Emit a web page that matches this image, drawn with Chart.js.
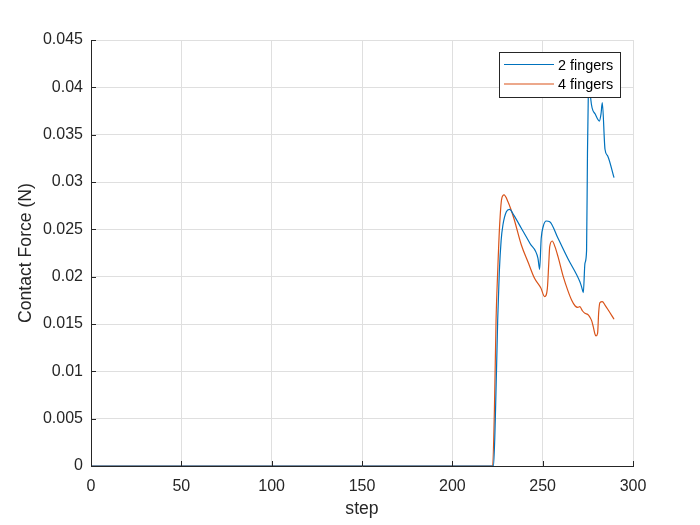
<!DOCTYPE html>
<html>
<head>
<meta charset="utf-8">
<script src="https://cdn.jsdelivr.net/npm/chart.js@4.4.1/dist/chart.umd.min.js"></script>
<style>
  html, body { margin: 0; padding: 0; background: #ffffff; }
  #wrap { width: 700px; height: 525px; }
</style>
</head>
<body>
<div id="wrap"><canvas id="c" width="700" height="525"></canvas></div>
<script>
// ---- data ----
const seriesLabels = ["2 fingers", "4 fingers"];
const steps2 = [0, 222.8, 223.8, 225.1, 226.0, 227.0, 228.0, 229.9, 231.7, 234.0, 238.2, 243.0, 247.4, 248.3, 249.2, 250.3, 252.0, 253.9, 258.5, 264.0, 270.6, 271.6, 272.5, 273.4, 274.3, 274.8, 275.4, 275.8, 276.6, 279.0, 281.4, 282.3, 283.0, 284.5, 286.0, 289.5];
const force2 = [0, 0, 0.005, 0.0154, 0.0205, 0.0238, 0.02546, 0.02686, 0.02711, 0.0265, 0.02511, 0.0235, 0.02194, 0.02078, 0.02405, 0.0253, 0.02588, 0.02581, 0.02405, 0.0219, 0.01947, 0.0189, 0.01831, 0.02141, 0.02275, 0.033, 0.041, 0.0425, 0.0388, 0.0372, 0.03644, 0.0372, 0.03838, 0.03346, 0.03275, 0.03046];
const steps4 = [0, 222.3, 223.3, 224.2, 225.2, 226.2, 227.3, 228.6, 230.8, 234.0, 238.2, 242.0, 245.5, 249.0, 251.1, 252.6, 253.4, 253.9, 255.3, 256.8, 258.5, 261.4, 264.0, 266.0, 268.0, 269.4, 270.6, 272.0, 273.4, 275.0, 276.2, 277.2, 278.0, 279.0, 279.5, 280.4, 281.0, 281.7, 283.0, 284.5, 286.3, 289.5];
const force4 = [0, 0, 0.006, 0.0154, 0.021, 0.0255, 0.0282, 0.02863, 0.02792, 0.0262, 0.02335, 0.0215, 0.01983, 0.0188, 0.01789, 0.01877, 0.0215, 0.02317, 0.02377, 0.02317, 0.02211, 0.02, 0.0185, 0.01754, 0.0169, 0.01676, 0.01683, 0.0164, 0.01613, 0.016, 0.0157, 0.0153, 0.01472, 0.0139, 0.01373, 0.014, 0.0162, 0.01725, 0.01736, 0.0170, 0.01648, 0.0155];
const xTicks = [0, 50, 100, 150, 200, 250, 300];
const yTicks = [0, 0.005, 0.01, 0.015, 0.02, 0.025, 0.03, 0.035, 0.04, 0.045];
const xTitle = "step";
const yTitle = "Contact Force (N)";

// ---- styles ----
const FONT = "'Liberation Sans', Arial, Helvetica, sans-serif";
const TXT = "#262626";
const GRID = "#dfdfdf";
const colors = ["#0072BD", "#D95319"];

function pts(xs, ys) { return xs.map((x, i) => ({ x: x, y: ys[i] })); }

const inwardTicks = {
  id: 'inwardTicks',
  afterDraw(chart) {
    const ctx = chart.ctx, ca = chart.chartArea;
    const xs = chart.scales.x, ys = chart.scales.y;
    ctx.save();
    ctx.strokeStyle = TXT;
    ctx.lineWidth = 1;
    ctx.beginPath();
    xTicks.forEach(v => {
      const px = Math.round(xs.getPixelForValue(v)) + 0.5;
      ctx.moveTo(px, ca.bottom);
      ctx.lineTo(px, ca.bottom - 5);
    });
    yTicks.forEach(v => {
      const py = Math.round(ys.getPixelForValue(v)) + 0.5;
      ctx.moveTo(ca.left, py);
      ctx.lineTo(ca.left + 5, py);
    });
    ctx.stroke();
    ctx.restore();
  }
};

const boxLegend = {
  id: 'boxLegend',
  afterDatasetsDraw(chart) {
    const ctx = chart.ctx, ca = chart.chartArea;
    const right = Math.round(ca.right - 13) + 0.5;
    const left = Math.round(ca.right - 134) + 0.5;
    const top = Math.round(ca.top + 12) + 0.5;
    const bottom = Math.round(ca.top + 57) + 0.5;
    ctx.save();
    ctx.fillStyle = '#ffffff';
    ctx.fillRect(left, top, right - left, bottom - top);
    ctx.strokeStyle = TXT;
    ctx.lineWidth = 1;
    ctx.strokeRect(left, top, right - left, bottom - top);
    ctx.font = "14.4px " + FONT;
    ctx.textBaseline = 'middle';
    ctx.textAlign = 'left';
    chart.data.datasets.forEach((ds, i) => {
      const cy = top + 13.5 + i * 19.5;
      ctx.strokeStyle = ds.borderColor;
      ctx.lineWidth = 1.2;
      ctx.beginPath();
      ctx.moveTo(left + 4.5, cy - 1.5);
      ctx.lineTo(left + 54.5, cy - 1.5);
      ctx.stroke();
      ctx.fillStyle = '#000000';
      ctx.fillText(ds.label, left + 58.5, cy);
    });
    ctx.restore();
  }
};

new Chart(document.getElementById('c'), {
  type: 'line',
  data: {
    datasets: [
      { label: seriesLabels[0], data: pts(steps2, force2), borderColor: colors[0], backgroundColor: colors[0], borderWidth: 1.2, pointRadius: 0, cubicInterpolationMode: 'monotone', fill: false },
      { label: seriesLabels[1], data: pts(steps4, force4), borderColor: colors[1], backgroundColor: colors[1], borderWidth: 1.2, pointRadius: 0, cubicInterpolationMode: 'monotone', fill: false }
    ]
  },
  options: {
    responsive: false,
    animation: false,
    devicePixelRatio: 1,
    layout: { padding: { top: 40, right: 67, left: 0, bottom: 0 } },
    plugins: { legend: { display: false }, tooltip: { enabled: false } },
    scales: {
      x: {
        type: 'linear', min: 0, max: 300,
        afterFit(s) { s.height = 59; },
        afterBuildTicks(s) { s.ticks = xTicks.map(v => ({ value: v })); },
        grid: { color: GRID, lineWidth: 1, drawTicks: false },
        border: { display: true, color: TXT, width: 1 },
        ticks: { color: TXT, padding: 10.5, maxRotation: 0, font: { family: FONT, size: 16 }, callback: v => String(v) },
        title: { display: true, text: xTitle, color: TXT, font: { family: FONT, size: 17.6 }, padding: { top: 0, bottom: 5.5 } }
      },
      y: {
        type: 'linear', min: 0, max: 0.045,
        afterFit(s) { s.width = 91; },
        afterBuildTicks(s) { s.ticks = yTicks.map(v => ({ value: v })); },
        grid: { color: GRID, lineWidth: 1, drawTicks: false },
        border: { display: true, color: TXT, width: 1 },
        ticks: { color: TXT, padding: 8, font: { family: FONT, size: 16 }, callback: v => String(Number(v.toFixed(4))) },
        title: { display: true, text: yTitle, color: TXT, font: { family: FONT, size: 17.6 }, padding: { top: 16, bottom: 0 } }
      }
    }
  },
  plugins: [inwardTicks, boxLegend]
});
</script>
</body>
</html>
